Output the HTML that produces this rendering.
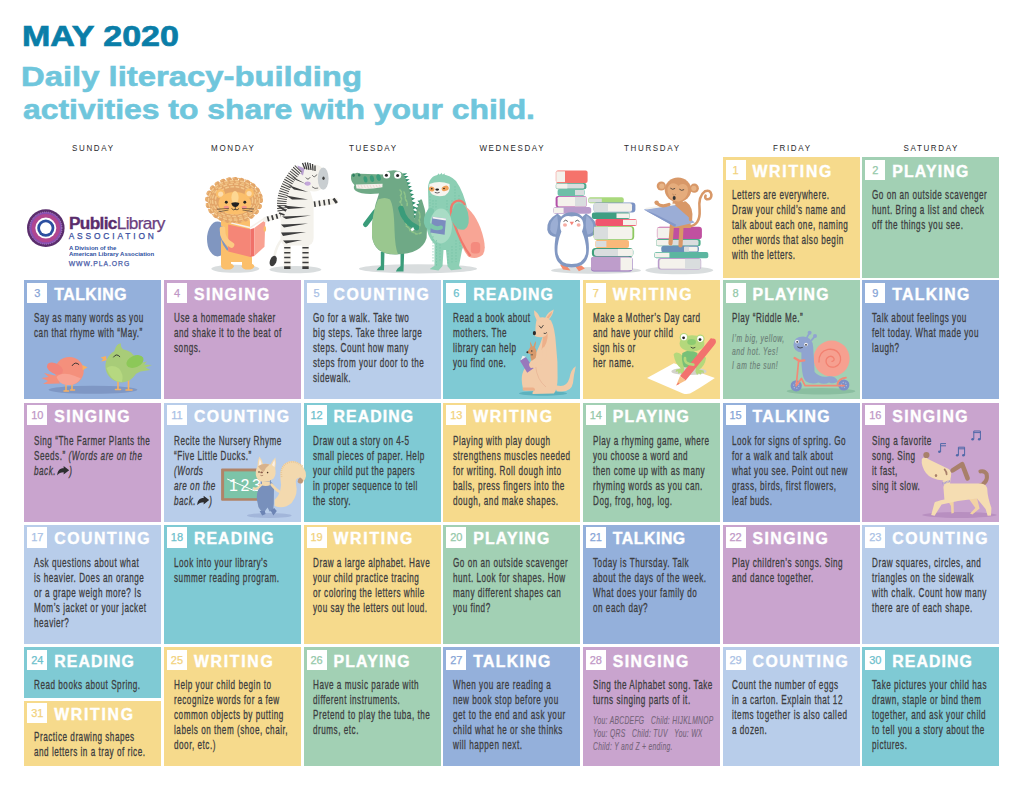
<!DOCTYPE html>
<html lang="en"><head><meta charset="utf-8"><title>May 2020 – Daily literacy-building activities</title>
<style>
html,body{margin:0;padding:0;background:#fff}
body{width:1024px;height:791px;position:relative;overflow:hidden;font-family:"Liberation Sans",sans-serif;color:#3d3d3f}
h1,h2,h3,p{margin:0;padding:0}
h1{position:absolute;left:22.3px;top:19.1px;font-size:29px;line-height:34px;font-weight:bold;color:#0A7EA8;transform:scaleX(1.172);transform-origin:0 0;white-space:nowrap;-webkit-text-stroke:0.7px #0A7EA8}
h2{position:absolute;left:21.6px;top:59.9px;font-size:28.2px;line-height:32.8px;font-weight:bold;color:#6FC6DC;white-space:nowrap;-webkit-text-stroke:0.6px #6FC6DC}
h2 span{display:block;transform-origin:0 0}h2 .a{transform:scaleX(1.164);margin-left:-1px}h2 .b{transform:scaleX(1.131);margin-left:1px}
.d{position:absolute;top:143.4px;width:137px;text-align:center;font-size:9.2px;line-height:11px;letter-spacing:1.9px;color:#2a2a2c;text-indent:1.9px;transform:scaleX(0.87);white-space:nowrap}
.c{position:absolute;width:137.0px;overflow:visible}
.c .n{position:absolute;left:2.95px;top:2.5px;width:19.9px;height:20.3px;background:#fff;text-align:center;font-weight:normal;font-size:11px;line-height:21.4px;-webkit-text-stroke:0.25px}
.c h3{position:absolute;left:29.8px;top:5.5px;font-size:15.8px;line-height:18px;font-weight:bold;color:#fff;white-space:nowrap;transform-origin:0 0;-webkit-text-stroke:0.4px #fff}
.c p{position:absolute;left:9.8px;top:31.3px;font-size:12.4px;line-height:15px;letter-spacing:0.8px;white-space:nowrap;transform:scale(0.656,0.9933);transform-origin:0 0;color:#3d3d3f;z-index:3;-webkit-text-stroke:0.3px #3d3d3f}
.c p i{font-style:italic}
.ar{display:inline-block;vertical-align:-1.2px;margin-left:1px;transform:scaleX(1.5);transform-origin:0 50%;margin-right:6.4px}
.wr{background:#F6DA8C}.wr h3{letter-spacing:1.73px}.wr .n{color:#F2D27C}
.pl{background:#A2D0B4}.pl h3{letter-spacing:1.21px}.pl .n{color:#94C8A9}
.ta{background:#94B0DB}.ta h3{letter-spacing:1.33px}.ta.nar h3{letter-spacing:.55px}.ta .n{color:#86A4D6}
.si{background:#C9A4CE}.si h3{letter-spacing:1.45px}.si .n{color:#C097C6}
.co{background:#B8CDEA}.co h3{letter-spacing:1.57px}.co .n{color:#A9C1E5}
.re{background:#7FCAD4}.re h3{letter-spacing:1.13px}.re .n{color:#6CC0CC}
.c p.rd{top:52.3px;font-size:10px;line-height:13.1px;font-style:italic;color:#6d8279;-webkit-text-stroke:0.2px #6d8279;transform:scaleX(0.677)}
.c p.ab{top:66.6px;font-size:10.5px;line-height:12.95px;font-style:italic;color:#75647a;-webkit-text-stroke:0.15px #75647a;letter-spacing:0.5px;transform:scaleX(0.64)}
.logo{position:absolute;left:68.7px;top:214px;white-space:nowrap}
.logo div{position:absolute;left:0;transform-origin:0 0;white-space:nowrap}
.l1{top:1.4px;font-size:16px;line-height:18px;color:#6B3F80;letter-spacing:-0.6px;transform:scaleX(1.075);-webkit-text-stroke:0.25px #6B3F80}
.l1 b{color:#5A2D6C;-webkit-text-stroke:0.35px #5A2D6C}
.l2{top:18px;font-size:8.4px;line-height:9px;color:#3A4FA0;letter-spacing:2.85px;-webkit-text-stroke:0.25px #3A4FA0}
.l3{top:30.7px;font-size:5.7px;line-height:6.6px;font-weight:bold;color:#2B4FA0;transform:scaleX(1.06)}
.l4{top:46px;font-size:6.8px;line-height:7px;color:#4A5CA8;letter-spacing:0.95px;-webkit-text-stroke:0.25px #4A5CA8}
#art{position:absolute;left:0;top:0;z-index:2}

.r1 h3{margin-top:.5px}.r1 p{margin-top:0}.r1 .n{margin-top:.4px}

</style></head>
<body>
<h1>MAY 2020</h1>
<h2><span class="a">Daily literacy-building</span><span class="b">activities to share with your child.</span></h2>
<div class="d" style="left:24.4px">SUNDAY</div>
<div class="d" style="left:164.1px">MONDAY</div>
<div class="d" style="left:303.7px">TUESDAY</div>
<div class="d" style="left:443.4px">WEDNESDAY</div>
<div class="d" style="left:583.0px">THURSDAY</div>
<div class="d" style="left:722.7px">FRIDAY</div>
<div class="d" style="left:862.4px">SATURDAY</div>
<div class="logo">
<div class="l1"><b>Public</b>Library</div>
<div class="l2">ASSOCIATION</div>
<div class="l3">A Division of the<br>American Library Association</div>
<div class="l4">WWW.PLA.ORG</div>
</div>
<div id="bg">
<div class="c wr r1" style="left:722.7px;top:156.8px;height:120.9px"><b class="n">1</b><h3>WRITING</h3><p>Letters are everywhere.<br>Draw your child’s name and<br>talk about each one, naming<br>other words that also begin<br>with the letters.</p></div>
<div class="c pl r1" style="left:862.4px;top:156.8px;height:120.9px"><b class="n">2</b><h3>PLAYING</h3><p>Go on an outside scavenger<br>hunt. Bring a list and check<br>off the things you see.</p></div>
<div class="c ta nar" style="left:24.4px;top:280.1px;height:119.0px"><b class="n">3</b><h3>TALKING</h3><p>Say as many words as you<br>can that rhyme with “May.”</p></div>
<div class="c si" style="left:164.1px;top:280.1px;height:119.0px"><b class="n">4</b><h3>SINGING</h3><p>Use a homemade shaker<br>and shake it to the beat of<br>songs.</p></div>
<div class="c co" style="left:303.7px;top:280.1px;height:119.0px"><b class="n">5</b><h3>COUNTING</h3><p>Go for a walk. Take two<br>big steps. Take three large<br>steps. Count how many<br>steps from your door to the<br>sidewalk.</p></div>
<div class="c re" style="left:443.4px;top:280.1px;height:119.0px"><b class="n">6</b><h3>READING</h3><p>Read a book about<br>mothers. The<br>library can help<br>you find one.</p></div>
<div class="c wr" style="left:583.0px;top:280.1px;height:119.0px"><b class="n">7</b><h3>WRITING</h3><p>Make a Mother’s Day card<br>and have your child<br>sign his or<br>her name.</p></div>
<div class="c pl" style="left:722.7px;top:280.1px;height:119.0px"><b class="n">8</b><h3>PLAYING</h3><p>Play “Riddle Me.”</p><p class="rd">I’m big, yellow,<br>and hot. Yes!<br>I am the sun!</p></div>
<div class="c ta" style="left:862.4px;top:280.1px;height:119.0px"><b class="n">9</b><h3>TALKING</h3><p>Talk about feelings you<br>felt today. What made you<br>laugh?</p></div>
<div class="c si" style="left:24.4px;top:402.5px;height:119.0px"><b class="n">10</b><h3>SINGING</h3><p>Sing “The Farmer Plants the<br>Seeds.” <i>(Words are on the</i><br><i>back.<svg class=ar width=12.6 height=10 viewBox="0 0 10 8"><path d="M0.2 7.8 C0.2 4 2 1.9 5.4 1.9 V0.1 L9.9 3.6 L5.4 7.1 V5.3 C3 5.3 1.4 6 0.2 7.8Z" fill="#2e2e30"/></svg>)</i></p></div>
<div class="c co" style="left:164.1px;top:402.5px;height:119.0px"><b class="n">11</b><h3>COUNTING</h3><p>Recite the Nursery Rhyme<br>“Five Little Ducks.”<br><i>(Words</i><br><i>are on the</i><br><i>back.<svg class=ar width=12.6 height=10 viewBox="0 0 10 8"><path d="M0.2 7.8 C0.2 4 2 1.9 5.4 1.9 V0.1 L9.9 3.6 L5.4 7.1 V5.3 C3 5.3 1.4 6 0.2 7.8Z" fill="#2e2e30"/></svg>)</i></p></div>
<div class="c re" style="left:303.7px;top:402.5px;height:119.0px"><b class="n">12</b><h3>READING</h3><p>Draw out a story on 4-5<br>small pieces of paper. Help<br>your child put the papers<br>in proper sequence to tell<br>the story.</p></div>
<div class="c wr" style="left:443.4px;top:402.5px;height:119.0px"><b class="n">13</b><h3>WRITING</h3><p>Playing with play dough<br>strengthens muscles needed<br>for writing. Roll dough into<br>balls, press fingers into the<br>dough, and make shapes.</p></div>
<div class="c pl" style="left:583.0px;top:402.5px;height:119.0px"><b class="n">14</b><h3>PLAYING</h3><p>Play a rhyming game, where<br>you choose a word and<br>then come up with as many<br>rhyming words as you can.<br>Dog, frog, hog, log.</p></div>
<div class="c ta" style="left:722.7px;top:402.5px;height:119.0px"><b class="n">15</b><h3>TALKING</h3><p>Look for signs of spring. Go<br>for a walk and talk about<br>what you see. Point out new<br>grass, birds, first flowers,<br>leaf buds.</p></div>
<div class="c si" style="left:862.4px;top:402.5px;height:119.0px"><b class="n">16</b><h3>SINGING</h3><p>Sing a favorite<br>song. Sing<br>it fast,<br>sing it slow.</p></div>
<div class="c co" style="left:24.4px;top:524.8px;height:119.0px"><b class="n">17</b><h3>COUNTING</h3><p>Ask questions about what<br>is heavier. Does an orange<br>or a grape weigh more? Is<br>Mom’s jacket or your jacket<br>heavier?</p></div>
<div class="c re" style="left:164.1px;top:524.8px;height:119.0px"><b class="n">18</b><h3>READING</h3><p>Look into your library’s<br>summer reading program.</p></div>
<div class="c wr" style="left:303.7px;top:524.8px;height:119.0px"><b class="n">19</b><h3>WRITING</h3><p>Draw a large alphabet. Have<br>your child practice tracing<br>or coloring the letters while<br>you say the letters out loud.</p></div>
<div class="c pl" style="left:443.4px;top:524.8px;height:119.0px"><b class="n">20</b><h3>PLAYING</h3><p>Go on an outside scavenger<br>hunt. Look for shapes. How<br>many different shapes can<br>you find?</p></div>
<div class="c ta nar" style="left:583.0px;top:524.8px;height:119.0px"><b class="n">21</b><h3>TALKING</h3><p>Today is Thursday. Talk<br>about the days of the week.<br>What does your family do<br>on each day?</p></div>
<div class="c si" style="left:722.7px;top:524.8px;height:119.0px"><b class="n">22</b><h3>SINGING</h3><p>Play children’s songs. Sing<br>and dance together.</p></div>
<div class="c co" style="left:862.4px;top:524.8px;height:119.0px"><b class="n">23</b><h3>COUNTING</h3><p>Draw squares, circles, and<br>triangles on the sidewalk<br>with chalk. Count how many<br>there are of each shape.</p></div>
<div class="c re" style="left:24.4px;top:647.2px;height:50.5px"><b class="n">24</b><h3>READING</h3><p>Read books about Spring.</p></div>
<div class="c wr" style="left:164.1px;top:647.2px;height:119.0px"><b class="n">25</b><h3>WRITING</h3><p>Help your child begin to<br>recognize words for a few<br>common objects by putting<br>labels on them (shoe, chair,<br>door, etc.)</p></div>
<div class="c pl" style="left:303.7px;top:647.2px;height:119.0px"><b class="n">26</b><h3>PLAYING</h3><p>Have a music parade with<br>different instruments.<br>Pretend to play the tuba, the<br>drums, etc.</p></div>
<div class="c ta" style="left:443.4px;top:647.2px;height:119.0px"><b class="n">27</b><h3>TALKING</h3><p>When you are reading a<br>new book stop before you<br>get to the end and ask your<br>child what he or she thinks<br>will happen next.</p></div>
<div class="c si" style="left:583.0px;top:647.2px;height:119.0px"><b class="n">28</b><h3>SINGING</h3><p>Sing the Alphabet song. Take<br>turns singing parts of it.</p><p class="ab">You: ABCDEFG &nbsp;&nbsp;Child: HIJKLMNOP<br>You: QRS &nbsp;&nbsp;Child: TUV &nbsp;&nbsp;You: WX<br>Child: Y and Z + ending.</p></div>
<div class="c co" style="left:722.7px;top:647.2px;height:119.0px"><b class="n">29</b><h3>COUNTING</h3><p>Count the number of eggs<br>in a carton. Explain that 12<br>items together is also called<br>a dozen.</p></div>
<div class="c re" style="left:862.4px;top:647.2px;height:119.0px"><b class="n">30</b><h3>READING</h3><p>Take pictures your child has<br>drawn, staple or bind them<br>together, and ask your child<br>to tell you a story about the<br>pictures.</p></div>
<div class="c wr" style="left:24.4px;top:700.6px;height:65.6px"><b class="n">31</b><h3>WRITING</h3><p style="top:29.9px">Practice drawing shapes<br>and letters in a tray of rice.</p></div>
</div>
<svg id="art" width="1024" height="791" viewBox="0 0 1024 791">
<g id="lion">
<ellipse cx="235.3" cy="268.8" rx="24" ry="4" fill="#D9DDDE"/>
<ellipse cx="217.5" cy="239" rx="10.5" ry="17.5" fill="#8096C0"/>
<path d="M221 262 L221 222 Q221 214 235 214 Q250 214 250 222 L250 262 Z" fill="#FBBF6B"/>
<rect x="221" y="255" width="10" height="12" rx="3" fill="#FBBF6B"/><rect x="242" y="255" width="10" height="12" rx="3" fill="#FBBF6B"/>
<ellipse cx="227.5" cy="266.3" rx="6.3" ry="3.3" fill="#FBBF6B"/><ellipse cx="248" cy="266.3" rx="6.3" ry="3.3" fill="#FBBF6B"/>
<path d="M222 226 Q219 240 228 250" stroke="#8096C0" stroke-width="2.2" fill="none"/>
<ellipse cx="234" cy="200.3" rx="26" ry="20.3" fill="#E2A468"/>
<ellipse cx="234" cy="200.3" rx="26.3" ry="20.6" fill="none" stroke="#E2A468" stroke-width="5.4" stroke-dasharray="0.1 6.1" stroke-linecap="round"/>
<ellipse cx="234" cy="200.3" rx="25.5" ry="19.8" fill="none" stroke="#F3C88C" stroke-width="1.5" stroke-dasharray="2.8 2.6" stroke-linecap="round"/>
<ellipse cx="234" cy="200.3" rx="21.5" ry="16.2" fill="none" stroke="#F3C88C" stroke-width="1.5" stroke-dasharray="2.8 2.8" stroke-linecap="round"/>
<ellipse cx="234" cy="200.3" rx="23.5" ry="18" fill="none" stroke="#F0C080" stroke-width="1.3" stroke-dasharray="2.4 3" stroke-dashoffset="2.6" stroke-linecap="round"/>
<ellipse cx="234" cy="200.3" rx="18.6" ry="13.6" fill="none" stroke="#F3C88C" stroke-width="1.5" stroke-dasharray="2.6 2.6" stroke-linecap="round"/>
<ellipse cx="234" cy="200.3" rx="28" ry="22.2" fill="none" stroke="#EDB878" stroke-width="1.2" stroke-dasharray="2 4.2" stroke-dashoffset="1" stroke-linecap="round"/>
<circle cx="220.5" cy="193.8" r="4.6" fill="#FBBF6B"/><circle cx="249.3" cy="193.2" r="4.6" fill="#FBBF6B"/>
<circle cx="220.7" cy="194.2" r="2.6" fill="#FCDDAE"/><circle cx="249.1" cy="193.6" r="2.6" fill="#FCDDAE"/>
<ellipse cx="234.8" cy="203.2" rx="16.3" ry="11.3" fill="#FBBF6B"/>
<ellipse cx="235" cy="197.5" rx="3.6" ry="6.5" fill="#FDD793"/>
<ellipse cx="226.3" cy="207.3" rx="2.8" ry="1.6" fill="#F4928A"/><ellipse cx="244.2" cy="207.3" rx="2.8" ry="1.6" fill="#F4928A"/>
<circle cx="226.3" cy="202.2" r="1.45" fill="#222"/><circle cx="244.8" cy="202.2" r="1.45" fill="#222"/>
<path d="M231.3 203 Q235.3 201.6 239.3 203 Q238.5 206.8 235.3 207 Q232 206.8 231.3 203Z" fill="#222"/>
<path d="M235.3 206.5 V209.3 M231.8 208.8 Q233.5 210.8 235.3 209.3 Q237 210.8 238.8 208.8" stroke="#222" stroke-width="0.7" fill="none" stroke-linecap="round"/>
<path d="M217 209.2 L229 208.4 M218.5 211.8 L228.5 210 M242 208.4 L254 209 M242.5 210 L252.5 211.6" stroke="#222" stroke-width="0.55" fill="none"/>
<path d="M228.2 224.5 L250.3 229.3 L250.3 256.9 L228.2 251.4Z" fill="#F58677"/>
<path d="M250.3 229.3 L254.3 228 L254.3 256 L250.3 256.9Z" fill="#F07169"/>
<path d="M254.3 228 L265.3 219.8 L264.5 246.7 L254.3 256Z" fill="#F9A192"/>
<path d="M230.5 223.6 L250.3 228.4 L264.3 219.2 L262.8 218.6 L250.3 226.8 L232 222.6Z" fill="#F6F1EA"/>
<path d="M222.5 229 Q222 240 231.5 245" stroke="#FCCB82" stroke-width="5.6" fill="none" stroke-linecap="round"/>
<ellipse cx="264.8" cy="229" rx="1.3" ry="3" fill="#FBBF6B"/>
</g>
<g id="zebra">
<ellipse cx="295.4" cy="269.6" rx="26" ry="3.6" fill="#D9DDDE"/>
<path d="M283 238 Q276 246 274.5 256" stroke="#F4F2EC" stroke-width="2.6" fill="none"/>
<ellipse cx="273.2" cy="261" rx="3.2" ry="5.4" transform="rotate(22 273.2 261)" fill="#3C3C3C"/>
<path d="M287.3 240 V268.5 M305.5 240 V268.5" stroke="#F4F2EC" stroke-width="7.2" fill="none"/>
<path d="M287.3 247 V266 M305.5 247 V266" stroke="#3C3C3C" stroke-width="6.2" stroke-dasharray="1.5 3.4" fill="none"/>
<path d="M287.3 266.2 V269 M305.5 266.2 V269" stroke="#3C3C3C" stroke-width="6.4" fill="none"/>
<path d="M312 204.5 L335 201" stroke="#F4F2EC" stroke-width="6.2" fill="none" stroke-linecap="round"/>
<path d="M314 204.2 L332 201.5" stroke="#3C3C3C" stroke-width="5.6" stroke-dasharray="1.6 3.2" fill="none"/>
<path d="M333.5 198.5 L336.8 203" stroke="#3C3C3C" stroke-width="2.6" fill="none"/>
<path d="M284 214.5 L265.5 219.5" stroke="#F4F2EC" stroke-width="5.4" fill="none" stroke-linecap="round"/>
<path d="M282 215 L266 219.4" stroke="#3C3C3C" stroke-width="5" stroke-dasharray="1.7 2.8" fill="none"/>
<path d="M297 167 C286 178 277 196 280.6 214 L280.6 238 Q280.6 245.5 288 245.5 L306 245.5 Q313.6 245.5 313.6 238 L313.6 204 C312.5 198 311 193 309.5 190 L306 166 Z" fill="#F4F2EC"/>
<ellipse cx="314" cy="178" rx="12.5" ry="13.5" fill="#F4F2EC"/>
<ellipse cx="323.2" cy="178.6" rx="5.4" ry="11.2" fill="#C9CED1"/>
<ellipse cx="323.5" cy="178.3" rx="1.2" ry="1.7" fill="#3C3C3C"/>
<path d="M297.5 165.5 L304.5 168.5 L303 175.5 Q298 172 297.5 165.5Z" fill="#B9A0D0"/>
<path d="M302.5 163 L305 169 M305 162.5 L307 169.5 M307.5 162.5 L309 169.8 M310 163 L311 170 M312.5 164 L313 170.5 M315 165.5 L315 171" stroke="#3C3C3C" stroke-width="1.3" fill="none"/>
<path d="M306 177.8 Q308 181 310 177.5 M312.4 175.5 Q314.6 178.6 316.6 174.8" stroke="#3C3C3C" stroke-width="0.75" fill="none" stroke-linecap="round"/>
<ellipse cx="307.6" cy="183.6" rx="3" ry="2.1" fill="#C4A7DA"/>
<path d="M312.3 187 Q314.8 189.4 317.8 188.2" stroke="#3C3C3C" stroke-width="0.7" fill="none" stroke-linecap="round"/>
<path d="M298.5 168.5 C288 179 279 196 282.5 212" stroke="#F4F2EC" stroke-width="9.5" fill="none"/><path d="M298.5 168.5 C288 179 279 196 282.5 212" stroke="#3C3C3C" stroke-width="9.5" stroke-dasharray="0.9 1.4" fill="none"/>
<path d="M286 211 L278.5 206 M284.5 215 L279 213" stroke="#3C3C3C" stroke-width="1.8" fill="none"/>
<path d="M291 176 L306 184 L296 180Z M288.5 185 L308 192 L294 189.5Z M286 195.5 L308 199.5 L292 199.5Z M283.5 205.5 L306 207.8 L288 209Z M282 216.5 L311 215.5 L286 219Z M281 224.5 L308 223.5 L284 227.5Z M281 232.5 L306 232 L283 236Z M283 240.5 L302 240 L286 243.5Z" fill="#3C3C3C"/>
</g>
<g id="croc">
<path d="M359 268.8 a59 4.6 0 1 0 118 0 a59 4.6 0 1 0 -118 0Z" fill="#D9DDDE"/>
<path d="M380.8 252 V266 Q377 268.5 376.5 270.2 L384 270.2 L384.5 252Z M400.5 252 V266 Q396.5 269 396 271.4 L403.5 271.4 L404.2 252Z" fill="#3A9C7A"/>
<path d="M375 212 L365.5 224.5" stroke="#3A9C7A" stroke-width="5" stroke-linecap="round" fill="none"/>
<path d="M402.6 173.4 L407.3 173.2 L403.7 176.0Z M403.7 176.0 L408.5 176.1 L404.8 178.9Z M404.8 178.9 L409.7 179.3 L406.0 182.1Z M406.0 182.0 L410.8 182.7 L407.1 185.5Z M407.1 185.4 L411.9 186.3 L408.1 189.1Z M408.1 189.0 L413.0 190.2 L409.2 192.9Z M409.2 192.9 L414.0 194.2 L410.1 196.9Z M410.1 196.9 L415.0 198.4 L411.0 201.1Z M411.0 201.0 L415.8 202.8 L411.8 205.4Z M411.8 205.4 L416.6 207.4 L412.5 209.8Z M412.5 209.8 L417.2 212.0 L413.1 214.4Z M413.1 214.4 L417.7 216.8 L413.5 219.1Z M416.0 219.2 L412.9 216.3 L416.9 215.0Z M416.9 215.1 L414.0 212.1 L418.0 211.0Z M418.0 211.0 L415.0 208.0 L419.1 207.1Z M419.1 207.1 L416.2 204.2 L420.2 203.5Z M420.2 203.6 L417.4 200.7 L421.3 200.3Z" fill="#2F8F6E"/>
<path d="M351 176.5 Q351 172.8 355 173.4 Q357.5 172 360 173.8 L384 174.5 Q386 170.5 390 170.8 Q394 169.5 398 171 Q403 171.5 405 178 C409 186 413.5 202 414.5 219.5 Q417 208 420.2 199.8 Q421.2 198.6 422 200 Q428.5 218 426.6 238 Q422 254 396 254.4 Q374 255 372 236 Q371 215 379 193.5 Q362 195 356 191 Q352.5 188.5 354.5 185 Q350.5 181.5 351 176.5Z" fill="#6FA986"/>
<path d="M372 236 Q371 216 378 199.5 Q385 196.5 390 199.5 Q394 206 394.5 230 Q395 247 398 254.3 Q374 255 372 236Z" fill="#9AC78F"/>
<path d="M355.8 184.6 L382.6 183.8 L382.4 187.3 Q368 190 356.5 188.6Z" fill="#F3EFEA"/>
<path d="M358 185 l1.4 3 M361 185 l1.4 3 M364 185 l1.4 3 M367 185 l1.4 3 M370 185 l1.4 3 M373 184.8 l1.4 3 M376 184.6 l1.4 3 M379 184.4 l1.4 3" stroke="#E8C8C8" stroke-width="0.6" fill="none"/>
<ellipse cx="365.5" cy="179.3" rx="1.9" ry="3.2" transform="rotate(-12 365.5 179.3)" fill="#3A9C7A"/><ellipse cx="372" cy="178.6" rx="2.1" ry="3.4" transform="rotate(-12 372 178.6)" fill="#3A9C7A"/><ellipse cx="378.6" cy="177.6" rx="2.2" ry="3.4" transform="rotate(-12 378.6 177.6)" fill="#3A9C7A"/>
<ellipse cx="353.6" cy="175.3" rx="1.3" ry="1.6" fill="#2F7F62"/><ellipse cx="359.2" cy="175" rx="1.3" ry="1.6" fill="#2F7F62"/>
<circle cx="386.6" cy="175" r="3.6" fill="#fff"/><circle cx="397.7" cy="175.2" r="3.6" fill="#fff"/>
<circle cx="386.4" cy="175.2" r="1.5" fill="#222"/><circle cx="397.6" cy="175.4" r="1.5" fill="#222"/>
<path d="M400 190 q3 3 0 6 q3 3 0 6 q3 3 1 6 q3 3 1 6 q3 3 2 6 q3 3 2 6 q4 2 4 5 q4 1 6 3 q4 0 6 -2 M404 192 q2 4 1 7 q3 3 2 7 M419 212 q2 4 0 8 q2 4 0 8" stroke="#8FC489" stroke-width="1.6" stroke-dasharray="2.2 1.8" stroke-linecap="round" fill="none"/>
<path d="M401 208.5 Q404 222 416.5 227.5" stroke="#3A9C7A" stroke-width="5.6" stroke-linecap="round" fill="none"/>
<path d="M410.5 229.5 l2.6 -2.4 l1.4 2.6 l-2.6 1.6Z" fill="#fff"/>
</g>
<g id="sloth">
<path d="M430 268.8 l4.5 -3 V244 Q426 236 426.5 222 Q424 216 428.5 208 L428 188 Q428.5 175.5 440 174.5 Q449 173.5 456 181 Q464 192 468 212 Q470 232 462 250 L459 266 l3 3 l-11 1.2 l-3.5 -4 L446 250 L443.5 250 L442.5 266 l-4 4.4 l-8.5 -1.2Z" fill="#8CCFB4"/>
<path d="M437 175.5 l1.6 -2.2 l1 2 l2 -2.6 l0.8 2.4 l2.2 -1.8 l0.2 2.4Z" fill="#8CCFB4"/>
<ellipse cx="441" cy="226" rx="11" ry="17.5" fill="#A9DCC5"/>
<path d="M429.5 184 Q439 180 449.5 184 Q451 192 445 195.5 Q438 197.5 432.5 194.5 Q428 191 429.5 184Z" fill="#F7F4EF"/>
<ellipse cx="431.6" cy="189" rx="2.9" ry="2.4" transform="rotate(20 431.6 189)" fill="#F0A25C"/><ellipse cx="445.2" cy="188.4" rx="3.6" ry="2.6" transform="rotate(-20 445.2 188.4)" fill="#F0A25C"/>
<circle cx="431.8" cy="188.8" r="0.8" fill="#222"/><circle cx="444" cy="188.5" r="0.8" fill="#222"/>
<ellipse cx="437.2" cy="189.6" rx="1.9" ry="1.1" fill="#222"/><path d="M434.8 192.4 Q437.2 193.6 439.6 192.4" stroke="#222" stroke-width="0.7" fill="none"/>
<path d="M433 236 V262 M436.5 240 V266 M440 244 V262 M448 250 V265 M452 246 V264 M456 240 V262 M460 230 V250 M463 215 V235 M459 195 V215 M455 186 V200 M452 200 V212 M430 196 V206 M433 200 V210 M436 200 V208 M447 200 V210 M462 205 V222 M464 230 V244" stroke="#6FBFA2" stroke-width="0.6" stroke-dasharray="1.6 1.4" fill="none"/>
<path d="M431 211 Q424.5 219 428 225.5 Q432 230 440 228" stroke="#7CC7AB" stroke-width="6" stroke-linecap="round" fill="none"/>
<path d="M432.5 216.7 L446 218.6 L444.6 234.8 L430.2 232.6Z" fill="#7B8DBF"/><path d="M432.5 216.7 L446 218.6 L445.8 220.4 L432.8 218.4Z" fill="#F4F2F2"/>
<path d="M431 225.5 Q435 229.5 441 227.5" stroke="#7CC7AB" stroke-width="4" stroke-linecap="round" fill="none"/>
<path d="M460 203 Q473 209 480.5 228 Q487.5 248 483 254.5 Q477 260 468.5 256.8 Q462 250 458 232Z" fill="#F8A595"/>
<rect x="470.8" y="242" width="9.4" height="11.6" rx="3.6" fill="#F48A7E"/>
<path d="M451.6 216 Q449 204 456.5 201 Q462 199.5 465 205 M453.5 222 Q461 244 470.5 256" stroke="#F0796C" stroke-width="2.3" fill="none"/>
<path d="M455 204.5 Q464 200 467.8 212 Q471 226 464.5 229.5 Q458 231.5 452.8 222.5 Q449.5 216.5 451.5 213Z" fill="#7CC7AB"/>
</g>
<g id="penguin">
<ellipse cx="596" cy="270.4" rx="45" ry="3.4" fill="#D9DDDE"/>
<path d="M563 269.5 l-3 -5 l6 0.5 l4.5 5.5 Z M575 266 l6.5 -0.6 l3.4 3 l-6 2.8 Z" fill="#F48A6C"/>
<!-- head stack -->
<rect x="555.8" y="170.5" width="31.8" height="12.4" rx="2" fill="#F5736B"/><rect x="556.2" y="171.3" width="8.8" height="10.8" fill="#F4F2EC"/>
<rect x="555.8" y="182.9" width="30.6" height="6.4" rx="2" fill="#4FA98C"/><rect x="556.3" y="183.7" width="28" height="4.8" rx="1.5" fill="#D9DDDE"/><rect x="556.3" y="183.7" width="11" height="4.8" fill="#F4F2EC"/>
<rect x="557.6" y="189.1" width="27" height="7" rx="2" fill="#6DBFA8"/><rect x="575" y="190" width="9" height="5.2" fill="#D9DDDE"/>
<rect x="555.6" y="196" width="31" height="11.2" rx="2.5" fill="#B34FA8"/><rect x="557.6" y="196.8" width="28.6" height="9.6" rx="1.5" fill="#F4F2EC"/><rect x="575" y="196.8" width="11.2" height="9.6" fill="#D9DDDE"/>
<rect x="553.2" y="207.1" width="38" height="6.6" rx="2.5" fill="#B99CCB"/><rect x="553.6" y="207.8" width="10" height="5.2" fill="#F4F2EC"/>
<!-- flippers -->
<path d="M557.5 213.5 Q546 220 547.3 230 Q549 238.5 561 236.5 L565 220Z" fill="#8298C2"/><path d="M557.2 215.6 Q549.6 221 550.2 229.6 Q552 235.6 559.5 234.6 Z" fill="#9CAED4"/>
<path d="M586 213.5 Q597.5 220 596.8 230 Q595 238.5 583 236.5 L579 220Z" fill="#8298C2"/><path d="M586.5 215.6 Q594 221 593.6 229.6 Q592 235.6 584.5 234.6 Z" fill="#9CAED4"/>
<!-- body -->
<path d="M571.6 212.2 Q585 212.2 586 228 Q590 244 588.5 254 Q586 267.4 571.6 267.4 Q557 267.4 555 254 Q553.5 244 557.5 228 Q558.5 212.2 571.6 212.2Z" fill="#8298C2"/>
<path d="M571.6 216.5 Q579 214.5 582.4 220.5 Q584.5 226 582 231.5 Q587 244 586 253 Q584 264 571.6 264 Q559.5 264 557.6 253 Q556.6 244 561.4 231.5 Q559 226 561 220.5 Q564.4 214.5 571.6 216.5Z" fill="#fff"/>
<path d="M563.8 221.2 q1.9 -2.4 3.8 0 M575.4 221.2 q1.9 -2.4 3.8 0" stroke="#333" stroke-width="0.8" fill="none" stroke-linecap="round"/>
<ellipse cx="565" cy="225" rx="2" ry="1.8" fill="#F6ADA4"/><ellipse cx="578.6" cy="225" rx="2" ry="1.8" fill="#F6ADA4"/>
<path d="M569.6 221.8 h4.4 l-2.2 3.4Z" fill="#F4847A"/>
</g>
<g id="stack2">
<rect x="588.3" y="197.3" width="35.4" height="6" rx="2" fill="#A9D97C"/><rect x="588.8" y="198.6" width="13" height="3.8" fill="#D9DDDE"/>
<rect x="593.6" y="202.4" width="41.8" height="10.2" rx="3" fill="#7C93C4"/><rect x="594" y="203.2" width="38" height="8.6" rx="2" fill="#F4F2EC"/><rect x="594" y="203.2" width="14" height="8.6" fill="#D9DDDE"/>
<rect x="591.9" y="212.5" width="38" height="6.5" rx="2" fill="#3F9E82"/><rect x="616.5" y="213.4" width="13.2" height="4.7" fill="#F4F2EC"/>
<rect x="595.4" y="218.9" width="41.4" height="7.1" rx="2" fill="#F0566E"/><rect x="623" y="219.8" width="13.6" height="5.3" fill="#F4F2EC"/>
<rect x="593.6" y="225.9" width="40.6" height="14.2" rx="3.5" fill="#8DC860"/><rect x="594" y="226.8" width="38.4" height="12.4" rx="2.5" fill="#F4F2EC"/><rect x="594" y="226.8" width="14" height="12.4" fill="#D9DDDE"/>
<rect x="595.4" y="240" width="33.6" height="8" rx="2" fill="#F9B87A"/><rect x="595.9" y="241" width="10.5" height="6" fill="#D9DDDE"/>
<rect x="591.9" y="247.9" width="41.4" height="9" rx="3.5" fill="#3FA07C"/><rect x="594" y="248.9" width="38.8" height="7" rx="2.5" fill="#D9DDDE"/><rect x="618" y="248.9" width="14.8" height="7" fill="#F4F2EC"/>
<rect x="591" y="256.8" width="41.6" height="14.8" rx="3" fill="#8E6BB8"/><rect x="591" y="256.8" width="40" height="14" rx="3" fill="#BE9DCB"/><rect x="620.5" y="257.6" width="11.6" height="12.6" fill="#F4F2EC"/>
</g>
<g id="monkey">
<ellipse cx="679.3" cy="270.3" rx="34" ry="4" fill="#D9DDDE"/>
<!-- stack -->
<rect x="656.9" y="226.8" width="45" height="12.4" rx="3" fill="#C050A0"/><rect x="657.3" y="227.6" width="15.6" height="10.8" fill="#F4F2EC"/>
<rect x="656" y="239.1" width="44.6" height="7.2" rx="2.5" fill="#4FAE8C"/><rect x="656.5" y="240" width="42" height="5.4" rx="1.5" fill="#D9DDDE"/><rect x="656.5" y="240" width="16" height="5.4" fill="#F4F2EC"/>
<rect x="661.3" y="245.8" width="37.6" height="6.8" rx="2.5" fill="#6A90B8"/><rect x="684" y="246.8" width="13.6" height="4.8" rx="1" fill="#F4F2EC"/><rect x="684" y="246.8" width="5" height="4.8" fill="#D9DDDE"/>
<rect x="654.3" y="251.9" width="54" height="6.4" rx="2" fill="#5CB6A0"/><rect x="654.8" y="252.8" width="14.6" height="4.6" fill="#F4F2EC"/>
<rect x="657.8" y="258.1" width="43.4" height="11.4" rx="3" fill="#B99CCB"/><rect x="659.4" y="258.9" width="41" height="9.8" rx="2" fill="#F4F2EC"/><rect x="685" y="258.9" width="15.4" height="9.8" fill="#D9DDDE"/>
<!-- tail -->
<path d="M688 226.5 Q700.5 226 699.6 210 Q698 196 705 191.2 Q710.5 189.4 711.4 194.6 Q711.6 199.6 706.8 199.2 Q704.4 198.2 705.6 195.6" stroke="#D89868" stroke-width="2.6" fill="none" stroke-linecap="round"/>
<!-- legs -->
<path d="M672 224 L670.5 243.5 M681.5 226 L680.5 245.5" stroke="#D89868" stroke-width="4.2" fill="none" stroke-linecap="round"/>
<!-- body -->
<path d="M673 199 Q687 199 689.5 212 L691 228 L670 228 Z" fill="#D89868"/>
<!-- ears/head -->
<circle cx="661.3" cy="186" r="4.6" fill="#D89868"/><circle cx="694.3" cy="188.2" r="4.6" fill="#D89868"/>
<circle cx="661.8" cy="186.2" r="2.6" fill="#E8B486"/><circle cx="693.8" cy="188.3" r="2.6" fill="#E8B486"/>
<ellipse cx="678" cy="189.8" rx="13.3" ry="12.2" fill="#D89868"/>
<path d="M667.5 188 Q670 182 675 183.5 Q678 184.5 678.5 186 Q680 183.6 683.5 184 Q688.5 185 688 191 Q687 199 679 201.4 Q672 201.6 669 196 Q667 192 667.5 188Z" fill="#E5AC7C"/>
<path d="M670.6 188.4 q2 2 4.2 0.2 M679.6 189.4 q2 2 4.2 0.4" stroke="#333" stroke-width="0.8" fill="none" stroke-linecap="round"/>
<ellipse cx="674.2" cy="198" rx="1.5" ry="2" fill="#333"/>
<path d="M672.6 194.2 l1 0.8 M675.4 194.4 l-0.8 0.8" stroke="#6b4a30" stroke-width="0.6"/>
<!-- book -->
<path d="M643.7 209.4 L674.5 204.8 L694.7 222.4 L675.3 227 Z" fill="#9BADD6"/>
<path d="M643.7 209.4 L655 214 L676 224.5 L675.3 227Z" fill="#8498C8"/>
<path d="M645 208 L674.3 203.4 L675.8 205 L646.5 209.6Z" fill="#F4F2EC"/>
<!-- arms -->
<path d="M669 204.5 Q662 207.5 657 203.6" stroke="#D89868" stroke-width="3.2" fill="none" stroke-linecap="round"/><circle cx="656.6" cy="202.6" r="2.2" fill="#D89868"/>
<path d="M685 203 Q692 208 690.5 219.5" stroke="#D89868" stroke-width="3.4" fill="none" stroke-linecap="round"/>
</g>
<g id="logoring">
<circle cx="45.8" cy="228.1" r="18.8" fill="#5A2D6C"/>
<circle cx="45.8" cy="228.1" r="16.2" fill="#8A4FB2"/>
<circle cx="45.8" cy="228.1" r="14.2" fill="#B04690"/>
<circle cx="45.8" cy="228.1" r="10.5" fill="#fff"/>
<circle cx="45.8" cy="228.1" r="8.6" fill="#2B4FA0"/>
<circle cx="45.8" cy="228.1" r="5.8" fill="#fff"/>
<circle cx="45.8" cy="228.1" r="16.2" fill="none" stroke="#fff" stroke-width="0.35" stroke-dasharray="1 1"/>
</g>
<g id="birds">
<ellipse cx="93" cy="389.8" rx="44.5" ry="4" fill="#7F97C4"/>
<path d="M66 385 v6 M64 391 h4.5 M72 385 v5 M70.5 390 h4" stroke="#F8B060" stroke-width="1.5" fill="none" stroke-linecap="round"/>
<path d="M118 381 v8 M115.5 389.5 h5 M128.5 379 v10 M126 390 h6" stroke="#F8B060" stroke-width="1.6" fill="none" stroke-linecap="round"/>
<path d="M57 376 l-13 -3 l4.5 4 l-7 1 l6.5 3 l-5 3 l17 -0.5Z" fill="#F4907C"/>
<ellipse cx="69.3" cy="371" rx="14.4" ry="14" fill="#F4907C"/>
<path d="M56.5 377 Q62 371 75 376 Q82 379 81 377.5 Q77 386 67 385 Q59 384 56.5 377Z" fill="#F8A393"/>
<ellipse cx="55" cy="368.5" rx="8.6" ry="5.2" transform="rotate(28 55 368.5)" fill="#F2857A"/>
<path d="M82.3 365 l5.2 2.2 l-4.8 3Z" fill="#F8B060"/>
<path d="M72.2 365.6 q2.8 -4.6 6.6 -1.2" stroke="#2b2b2b" stroke-width="0.9" fill="none" stroke-linecap="round"/>
<path d="M135 364 l12 -2.5 l-3 3 l8 0.5 l-6.5 2.5 l5 2.5 l-10 1.5 l-6 3Z" fill="#A8CC78"/>
<ellipse cx="121.6" cy="366" rx="16.2" ry="16.4" fill="#A8CC78"/>
<path d="M114 352 Q116.5 343 121 343.6 Q120 347 124 350Z" fill="#A8CC78"/>
<path d="M106.5 368 Q112 364 119 368.5 Q124 374 122 382 Q112 383 106.5 368Z" fill="#B6D880"/>
<ellipse cx="135" cy="361.5" rx="9" ry="5.8" transform="rotate(-24 135 361.5)" fill="#8CC858"/>
<path d="M106 356 l-5.4 1.6 l2.6 1.4 l-2 2.6 l5.4 -1.4Z" fill="#F8B060"/>
<path d="M113.6 357 q2.6 -4.2 6.2 -0.4" stroke="#2b2b2b" stroke-width="0.9" fill="none" stroke-linecap="round"/>
</g>
<g id="kangaroo">
<ellipse cx="543" cy="393.4" rx="24" ry="2.4" fill="#5CB2BE"/>
<path d="M553 384 Q566 390 569.5 378 Q571 369 575.8 366.2 Q573.5 376 573 383 Q571 393.5 557 391.2 Z" fill="#F2CBA8"/>
<path d="M534 310.2 Q539 313 540.4 319.6 L536.6 320 Q533.6 315 534 310.2Z M553.8 309.4 Q552.6 316 548.4 319.6 L544.8 318.4 Q548 311.6 553.8 309.4Z" fill="#F2CBA8"/>
<path d="M546.6 317.4 Q550 313 552.4 311.4 Q551.6 315.4 548.4 318.6Z" fill="#EDB08A"/>
<path d="M537.2 318.4 Q545 315.4 551 320.6 Q555 328 556 345 Q558 362 557.6 378 Q557.6 388 554 393.6 L532.6 394 Q532 391.4 535 390.6 L526 390.4 Q522.4 390.6 522.8 387.6 Q519 372 528.6 364.6 Q538 352 542.6 337 Q539 337.6 536 336.6 Q533.4 335.6 535.4 331.4 Q535.4 322 537.2 318.4Z" fill="#F2CBA8"/>
<path d="M543 337 Q546.6 336 547.8 333 Q548 344 541.6 350 Z" fill="#EDB08A"/>
<path d="M535.6 366 Q537 380 546 387" stroke="#E9B595" stroke-width="0.8" fill="none"/>
<path d="M522.8 387.4 h10 q2.4 0.2 2.2 3.2 h-12.2Z" fill="#EDB08A"/>
<ellipse cx="534.4" cy="333.1" rx="1.6" ry="2.2" fill="#2b2b2b"/>
<path d="M539.4 326 l1.8 2.2 l2 -2.8 M544 333.4 q1.4 0.8 2.6 -0.6" stroke="#2b2b2b" stroke-width="0.8" fill="none" stroke-linecap="round"/>
<path d="M530 341.4 Q531.6 343.6 532.4 346.4 L533.6 346 Q534 343 536 341 Q536.2 344.6 535 347.6 Q537.6 351.6 535.6 358 L531.6 361 Q529.8 357 530.6 354 Q527 353.4 527 352 Q529.8 348.6 530.6 346.6 Q529.8 344 530 341.4Z" fill="#D89A6C"/>
<circle cx="527.4" cy="352.2" r="1" fill="#2b2b2b"/><circle cx="531.8" cy="351" r="0.7" fill="#2b2b2b"/><path d="M530.6 354.8 h2.4" stroke="#2b2b2b" stroke-width="0.6"/>
<path d="M520 360.7 L525.9 356.9 L533.6 368.3 L527.2 372.7Z" fill="#9878BC"/><path d="M520.6 360.2 L522.6 355.8 L526 356.8Z" fill="#F4F2F2"/>
<path d="M544 349 Q546 358 541 362.6 Q536 366 531.4 366.2" stroke="#F2CBA8" stroke-width="3.6" fill="none" stroke-linecap="round"/>
<circle cx="531.2" cy="364.6" r="2.2" fill="#F2CBA8"/>
</g>
<g id="frog">
<path d="M647 378 L673.9 363.3 L714.9 378 Q700 388 690 393.6 Q686 394.6 683 393.4 Z" fill="#fff"/>
<ellipse cx="689" cy="371.4" rx="17.6" ry="3.6" fill="#D3D2CB"/>
<path d="M683 356 Q676 350 673.6 354.6 Q675 364 681 368.6 L676.4 369.4 l-0.8 2.6 l2.4 -0.8 l0.2 2.6 l2.4 -1.4 l1.6 2 l2 -3.4 Z M697 357 Q704 354 706 358 Q705 366 699 369.6 L703.6 370.6 l0.4 2.6 l-2.4 -1 l-0.6 2.6 l-2.2 -1.6 l-1.8 1.8 l-1.6 -3.4Z" fill="#B4D87C"/>
<path d="M682.4 353 Q689.6 348 697.4 353 Q698.6 362 695.6 367.6 L684 367.6 Q681 360 682.4 353Z" fill="#78C078"/>
<ellipse cx="692" cy="343.4" rx="12.4" ry="8.2" fill="#B4D87C"/>
<circle cx="683.9" cy="337.4" r="4.3" fill="#B4D87C"/><circle cx="700.3" cy="338.9" r="4.3" fill="#B4D87C"/>
<circle cx="683.9" cy="337.2" r="3.1" fill="#fff"/><circle cx="700.3" cy="338.8" r="3.1" fill="#fff"/>
<circle cx="683.6" cy="337.8" r="1.4" fill="#222"/><circle cx="700" cy="339.6" r="1.4" fill="#222"/>
<ellipse cx="691.6" cy="342" rx="4.4" ry="3" fill="#8CCB70"/>
<path d="M691 347.4 q1.8 1.8 4 0.2" stroke="#2b2b2b" stroke-width="0.8" fill="none" stroke-linecap="round"/>
<path d="M711 338 L714.9 341 Q716 343.4 714.4 345 L685.6 380.4 L680 376 Z" fill="#F2716E"/><circle cx="713" cy="341.4" r="2.9" fill="#F2716E"/>
<path d="M680 376 L685.6 380.4 L676.2 385.6 Z" fill="#F8C088"/><path d="M678.2 382.6 L679.6 383.8 L676.2 385.6Z" fill="#F2716E"/>
<path d="M685 358 Q684 364 693.4 364.6" stroke="#B4D87C" stroke-width="2.6" fill="none" stroke-linecap="round"/>
</g>
<g id="snail">
<ellipse cx="821" cy="391.2" rx="34.4" ry="3.2" fill="#8ABEA0"/>
<circle cx="831.6" cy="358.6" r="18" fill="#F6A090"/>
<path d="M832 361.4 q2.6 -0.6 2 -3 q-1.4 -3 -5 -1.8 q-4 2 -2.6 6.6 q2.4 5 8.4 3.6 q7 -2.6 5.6 -10 q-2.6 -8.6 -12.4 -7.4 q-9.6 2.4 -9 12.6" stroke="#F28070" stroke-width="1.3" fill="none" stroke-linecap="round"/>
<path d="M806.4 338.4 L809.2 333.4 M811.2 340.6 L814.6 336.6" stroke="#90A4D0" stroke-width="1.8" stroke-linecap="round" fill="none"/><circle cx="809.6" cy="332.8" r="2" fill="#90A4D0"/><circle cx="815" cy="336" r="2" fill="#90A4D0"/>
<path d="M793.4 345 Q794 336.6 803 336.6 Q812.4 337 813.2 347 L814.6 372 Q820 378 828 376.4 Q836 376 838 381.6 Q834 384.6 829 382.4 Q824 385 818.6 382.4 Q812 385 806 381.4 Q801 378 801.4 352.6 Q794 351.6 793.4 345Z" fill="#90A4D0"/>
<circle cx="797" cy="341.6" r="1.9" fill="#F4F2F4"/><circle cx="806" cy="344.6" r="1.8" fill="#F4F2F4"/>
<circle cx="797.2" cy="341.8" r="0.9" fill="#333"/><circle cx="806" cy="344.8" r="0.9" fill="#333"/>
<path d="M797.6 347 q2.2 2 4.8 0.6" stroke="#333" stroke-width="0.8" fill="none" stroke-linecap="round"/>
<circle cx="796.2" cy="385.8" r="5.6" fill="#7C90C8"/><circle cx="843.8" cy="385" r="5.6" fill="#7C90C8"/>
<circle cx="796.2" cy="385.8" r="2.6" fill="none" stroke="#A9B8DC" stroke-width="1.2" stroke-dasharray="1.2 1.5"/><circle cx="843.8" cy="385" r="2.6" fill="none" stroke="#A9B8DC" stroke-width="1.2" stroke-dasharray="1.2 1.5"/>
<path d="M798.6 361 L796.2 385.8 L801.4 378.4 L805 385.6 L844 385.6 M837.4 384 Q838.6 378.6 846 377.6" stroke="#F28A78" stroke-width="1.7" fill="none" stroke-linecap="round" stroke-linejoin="round"/>
<path d="M794.6 358 l5 3 l4.6 -0.6" stroke="#F28A78" stroke-width="2.4" fill="none" stroke-linecap="round"/>
</g>
<g id="squirrel">
<ellipse cx="269.3" cy="515.5" rx="22.3" ry="2.5" fill="#A2B6DA"/>
<rect x="221.1" y="468.4" width="38.4" height="32.4" rx="1" fill="#B08468"/>
<rect x="224.1" y="471.4" width="34" height="26.8" fill="#7CC4A8"/>
<text x="229" y="491.4" font-family="Liberation Sans, sans-serif" font-size="16" fill="#fff" letter-spacing="2.6">123</text>
<path d="M274.6 506 Q284 509.6 291.6 503 Q298.6 494 296 484 Q294.6 478 300 477.4 Q304.6 479 302.4 483 Q309 476 303.6 467.8 Q298 459.6 288.6 461.4 Q279 465 280.4 478 Q283 492 274.6 500Z" fill="#F3D9AE"/>
<path d="M281.6 477 Q279.6 466 288.6 462.4 Q297 460.4 303 467" stroke="#E6C494" stroke-width="1.8" stroke-dasharray="0.8 1.2" fill="none"/>
<path d="M300 477.4 Q304.6 479 302.4 483 Q299.6 484.6 297.6 482 Q297.6 478.6 300 477.4Z" fill="#C09878"/>
<path d="M227.2 479 L254.5 490.8" stroke="#fff" stroke-width="1"/>
<path d="M259 487.4 Q262 481 266 480.8 Q273.4 480.8 274 488 L273.8 504 Q273.6 511.6 269.6 511.6 L267.6 507.4 L264 512.4 Q258 510 257.6 503 Q255.4 496 259 487.4Z" fill="#7890BC"/>
<path d="M261 481.6 h9.6 v3.4 q-4.8 2 -9.6 0Z" fill="#F3D9AE"/>
<path d="M261.4 480 V486 M270.4 480 V486" stroke="#7890BC" stroke-width="1.1"/>
<path d="M271.6 484.6 Q276.6 490.6 279.4 491.6" stroke="#F3D9AE" stroke-width="2.6" fill="none" stroke-linecap="round"/>
<path d="M261 485 Q257 489.6 254 488.6" stroke="#F3D9AE" stroke-width="2.4" fill="none" stroke-linecap="round"/>
<path d="M257.4 466.4 Q257.6 460 259.4 456.4 Q262.4 460 263 464 Q266.6 463.2 270.4 464.6 Q272.6 460 275.4 457.6 Q276.6 463 275.2 468.4 Q276.6 474 273.6 478.6 Q268 483 261 481.4 Q255 478.6 255.8 472 Q256 468.6 257.4 466.4Z" fill="#F3D9AE"/>
<path d="M258.8 465.6 Q259 461.4 259.8 459 Q261.4 462 261.6 464.4Z M272 465 Q273.2 461.6 274.6 460 Q275.2 463.6 274.4 467Z" fill="#FBF0E6"/>
<path d="M258 466.4 Q263 462.4 269.6 464.6 Q265 468 263.8 472 Q260 469.6 258 466.4Z" fill="#D8B28C"/>
<circle cx="259" cy="472" r="0.8" fill="#4a3426"/><circle cx="267.6" cy="472.6" r="0.8" fill="#4a3426"/>
<ellipse cx="261.6" cy="472.4" rx="1.3" ry="0.9" fill="#8a5a48"/><path d="M260.4 475.2 q1.4 1 2.8 0" stroke="#8a5a48" stroke-width="0.6" fill="none"/>
<path d="M259.6 511 l2.6 4.4 l3.4 -1.4 l-0.8 -3Z M270.6 510.4 l3.6 -2.4 l2.6 3 l-3.4 4.4Z" fill="#6C84B4"/>
</g>
<g id="dog">
<ellipse cx="959.5" cy="515" rx="37.3" ry="2.9" fill="#B88FC0"/>
<path d="M979 486 Q988.6 482.6 986.6 474 Q984.6 470.4 980.4 471.4" stroke="#A8806A" stroke-width="4" fill="none" stroke-linecap="round"/>
<path d="M951 506 L948.6 502 L953.6 500.8 L953.8 513 L951.4 513.6Z M969 499 L975.4 508 L970 513.6 L972.4 514.6 L979.6 508.6 L977 498Z" fill="#F2D2A4"/>
<path d="M943.4 487 Q944 483.4 948 483.4 L981 483.4 Q987.6 484 987.4 491 Q987.6 497 991.4 508 L991 515.4 L987.6 515.8 L985.6 509 L977 498.6 L958 501 L941.6 504.4 L934.6 515.8 L931.2 515 L934.6 502.6 Q936 501.4 944.4 499.6Z" fill="#F5DDB2"/>
<path d="M921.8 459 Q924.4 456 929 459.4 L948.6 469 Q952 471.4 951 476 Q949.4 481 944 480.4 Q930.6 479.6 926 473 Q921 466 921.8 459Z" fill="#F5DDB2"/>
<path d="M942.6 481 L951 474.6 L950 484 L944 485Z" fill="#F5DDB2"/>
<circle cx="926.4" cy="455" r="3.1" fill="#A8806A"/>
<ellipse cx="936" cy="475.4" rx="1.2" ry="1.5" fill="#A8806A"/>
<path d="M944.6 469.4 Q946.8 472 946.6 474.4" stroke="#A8806A" stroke-width="1.7" fill="none" stroke-linecap="round"/>
<path d="M942.4 483.6 L950.2 481" stroke="#A79AD0" stroke-width="2.2" stroke-dasharray="0.9 0.5" fill="none"/>
<path d="M952.6 470.4 L962.2 464.2 L967.6 478.4" stroke="#A8806A" stroke-width="4.6" fill="none" stroke-linecap="round" stroke-linejoin="round"/>
<g fill="#5068A8" stroke="#5068A8" stroke-width="1" stroke-linecap="round">
<path d="M940.6 451.6 V443.6 H945.6 M940.6 445.8 H945.6" fill="none"/><circle cx="939.4" cy="451.8" r="1.3" stroke="none"/>
<path d="M958.4 455 V447.2 H964.6 V455 M958.4 448.8 H964.6" fill="none"/><circle cx="957.2" cy="455.2" r="1.3" stroke="none"/><circle cx="963.4" cy="455.2" r="1.3" stroke="none"/>
<path d="M973.8 439 V431 H980.4 V439 M973.8 432.6 H980.4" fill="none"/><circle cx="972.6" cy="439.2" r="1.3" stroke="none"/><circle cx="979.2" cy="439.2" r="1.3" stroke="none"/>
</g>
</g>
</svg>

</body></html>
